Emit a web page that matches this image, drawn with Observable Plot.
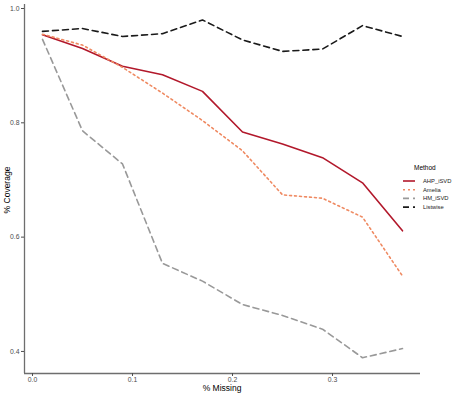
<!DOCTYPE html>
<html><head><meta charset="utf-8">
<script src="https://cdn.jsdelivr.net/npm/d3@7"></script>
<script src="https://cdn.jsdelivr.net/npm/@observablehq/plot@0.6"></script>
<style>
body{margin:0;background:#fff;font-family:"Liberation Sans",Arial,sans-serif;}
#wrap{position:relative;width:474px;height:394px;}
#legend{position:absolute;left:400px;top:162px;font-size:6px;color:#222;}
</style></head><body>
<div id="wrap"><div id="chart"></div><div id="legend"></div></div>
<script>
const missing = [0.01,0.05,0.09,0.13,0.17,0.21,0.25,0.29,0.33,0.37];
const methods = ["AHP_iSVD","Amelia","HM_iSVD","Listwise"];
const ahp      = [0.954,0.930,0.899,0.884,0.855,0.784,0.763,0.739,0.695,0.611];
const amelia   = [0.955,0.936,0.897,0.852,0.804,0.751,0.674,0.668,0.635,0.532];
const hm       = [0.946,0.786,0.728,0.554,0.523,0.482,0.463,0.439,0.389,0.405];
const listwise = [0.960,0.965,0.951,0.956,0.980,0.945,0.925,0.929,0.970,0.951];
const xTicks = [0.0,0.1,0.2,0.3];
const yTicks = [0.4,0.6,0.8,1.0];

const seriesVals = {AHP_iSVD:ahp, Amelia:amelia, HM_iSVD:hm, Listwise:listwise};
const styles = {
  AHP_iSVD:{stroke:"#B2182B", dash:null, w:1.6},
  Amelia:{stroke:"#EF8A62", dash:"2,3", w:1.6},
  HM_iSVD:{stroke:"#999999", dash:"6,4", w:1.6},
  Listwise:{stroke:"#1a1a1a", dash:"6,4", w:1.6}
};
const rows = methods.flatMap(m => missing.map((x,i)=>({method:m, x, y:seriesVals[m][i]})));
const xDom=[-0.008,0.388], yDom=[0.3614,1.007];

const marks = [
  Plot.ruleX([xDom[0]],{stroke:"#6e6e6e",strokeWidth:1.3}),
  Plot.ruleY([yDom[0]],{stroke:"#6e6e6e",strokeWidth:1.3}),
  Plot.axisY(yTicks,{tickSize:3,tickPadding:2,fontSize:6.8,fill:"#4d4d4d",stroke:"#4d4d4d",tickFormat:d3.format(".1f"),label:null}),
  Plot.axisX(xTicks,{tickSize:3,tickPadding:1,fontSize:6.8,fill:"#4d4d4d",stroke:"#4d4d4d",tickFormat:d3.format(".1f"),label:null}),
  ...methods.map(m => Plot.line(rows.filter(r=>r.method===m),{x:"x",y:"y",stroke:styles[m].stroke,strokeWidth:styles[m].w,strokeDasharray:styles[m].dash}))
];
const chart = Plot.plot({
  width:474,height:394,marginLeft:24,marginTop:4,marginBottom:21,marginRight:54,
  x:{domain:xDom},y:{domain:yDom},
  style:{fontFamily:"Liberation Sans, Arial, sans-serif",background:"#fff"},
  marks
});
const svg = d3.select(chart);
svg.append("text").attr("x",222).attr("y",391).attr("text-anchor","middle").attr("font-size",8.5).attr("fill","#000").text("% Missing");
svg.append("text").attr("transform","translate(10,190) rotate(-90)").attr("text-anchor","middle").attr("font-size",8.5).attr("fill","#000").text("% Coverage");
document.getElementById("chart").appendChild(chart);

// legend
const lg = d3.select("#legend").append("svg").attr("width",74).attr("height",50);
lg.append("text").attr("x",14).attr("y",8).attr("font-size",6.5).attr("fill","#000").text("Method");
methods.forEach((m,i)=>{
  const yy = 19 + i*8.7;
  lg.append("line").attr("x1",3).attr("x2",15).attr("y1",yy).attr("y2",yy)
    .attr("stroke",styles[m].stroke).attr("stroke-width",1.6).attr("stroke-dasharray",styles[m].dash);
  lg.append("text").attr("x",23).attr("y",yy+2).attr("font-size",5.8).attr("fill","#222").text(m);
});
</script></body></html>
